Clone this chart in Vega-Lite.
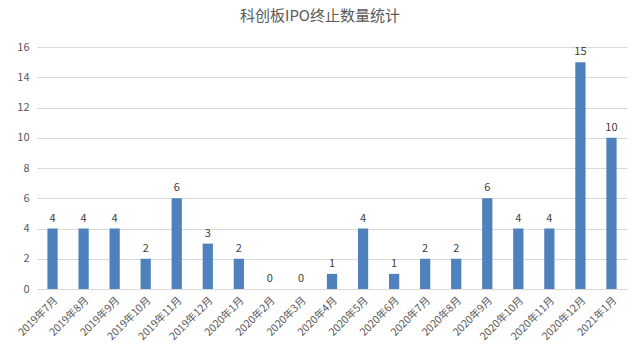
{
  "$schema": "https://vega.github.io/schema/vega-lite/v6.json",
  "width": 590,
  "height": 242,
  "autosize": {"type": "none"},
  "padding": {"left": 37, "top": 47, "right": 13, "bottom": 65},
  "background": "white",
  "title": {
    "text": "科创板IPO终止数量统计",
    "font": "Noto Sans CJK SC",
    "fontSize": 15,
    "fontWeight": "normal",
    "color": "#595959",
    "anchor": "middle",
    "offset": 17,
    "dx": -12
  },
  "config": {
    "view": {"stroke": null},
    "font": "Noto Sans CJK SC"
  },
  "data": {
    "values": [
      {"month": "2019年7月", "count": 4},
      {"month": "2019年8月", "count": 4},
      {"month": "2019年9月", "count": 4},
      {"month": "2019年10月", "count": 2},
      {"month": "2019年11月", "count": 6},
      {"month": "2019年12月", "count": 3},
      {"month": "2020年1月", "count": 2},
      {"month": "2020年2月", "count": 0},
      {"month": "2020年3月", "count": 0},
      {"month": "2020年4月", "count": 1},
      {"month": "2020年5月", "count": 4},
      {"month": "2020年6月", "count": 1},
      {"month": "2020年7月", "count": 2},
      {"month": "2020年8月", "count": 2},
      {"month": "2020年9月", "count": 6},
      {"month": "2020年10月", "count": 4},
      {"month": "2020年11月", "count": 4},
      {"month": "2020年12月", "count": 15},
      {"month": "2021年1月", "count": 10}
    ]
  },
  "encoding": {
    "x": {
      "field": "month",
      "type": "nominal",
      "sort": null,
      "scale": {"paddingInner": 0.67, "paddingOuter": 0.335},
      "axis": {
        "title": null,
        "labelAngle": -45,
        "labelColor": "#595959",
        "labelFontSize": 10.5,
        "ticks": false,
        "domainColor": "#d9d9d9",
        "labelPadding": 6
      }
    },
    "y": {
      "field": "count",
      "type": "quantitative",
      "scale": {"domain": [0, 16]},
      "axis": {
        "title": null,
        "values": [0, 2, 4, 6, 8, 10, 12, 14, 16],
        "labelColor": "#595959",
        "labelFontSize": 11,
        "ticks": false,
        "domain": false,
        "gridColor": "#d9d9d9",
        "labelPadding": 8
      }
    }
  },
  "layer": [
    {"mark": {"type": "bar", "color": "#4F81BD"}},
    {
      "mark": {"type": "text", "dy": -10, "fontSize": 11, "color": "#404040"},
      "encoding": {"text": {"field": "count", "type": "quantitative"}}
    }
  ]
}
